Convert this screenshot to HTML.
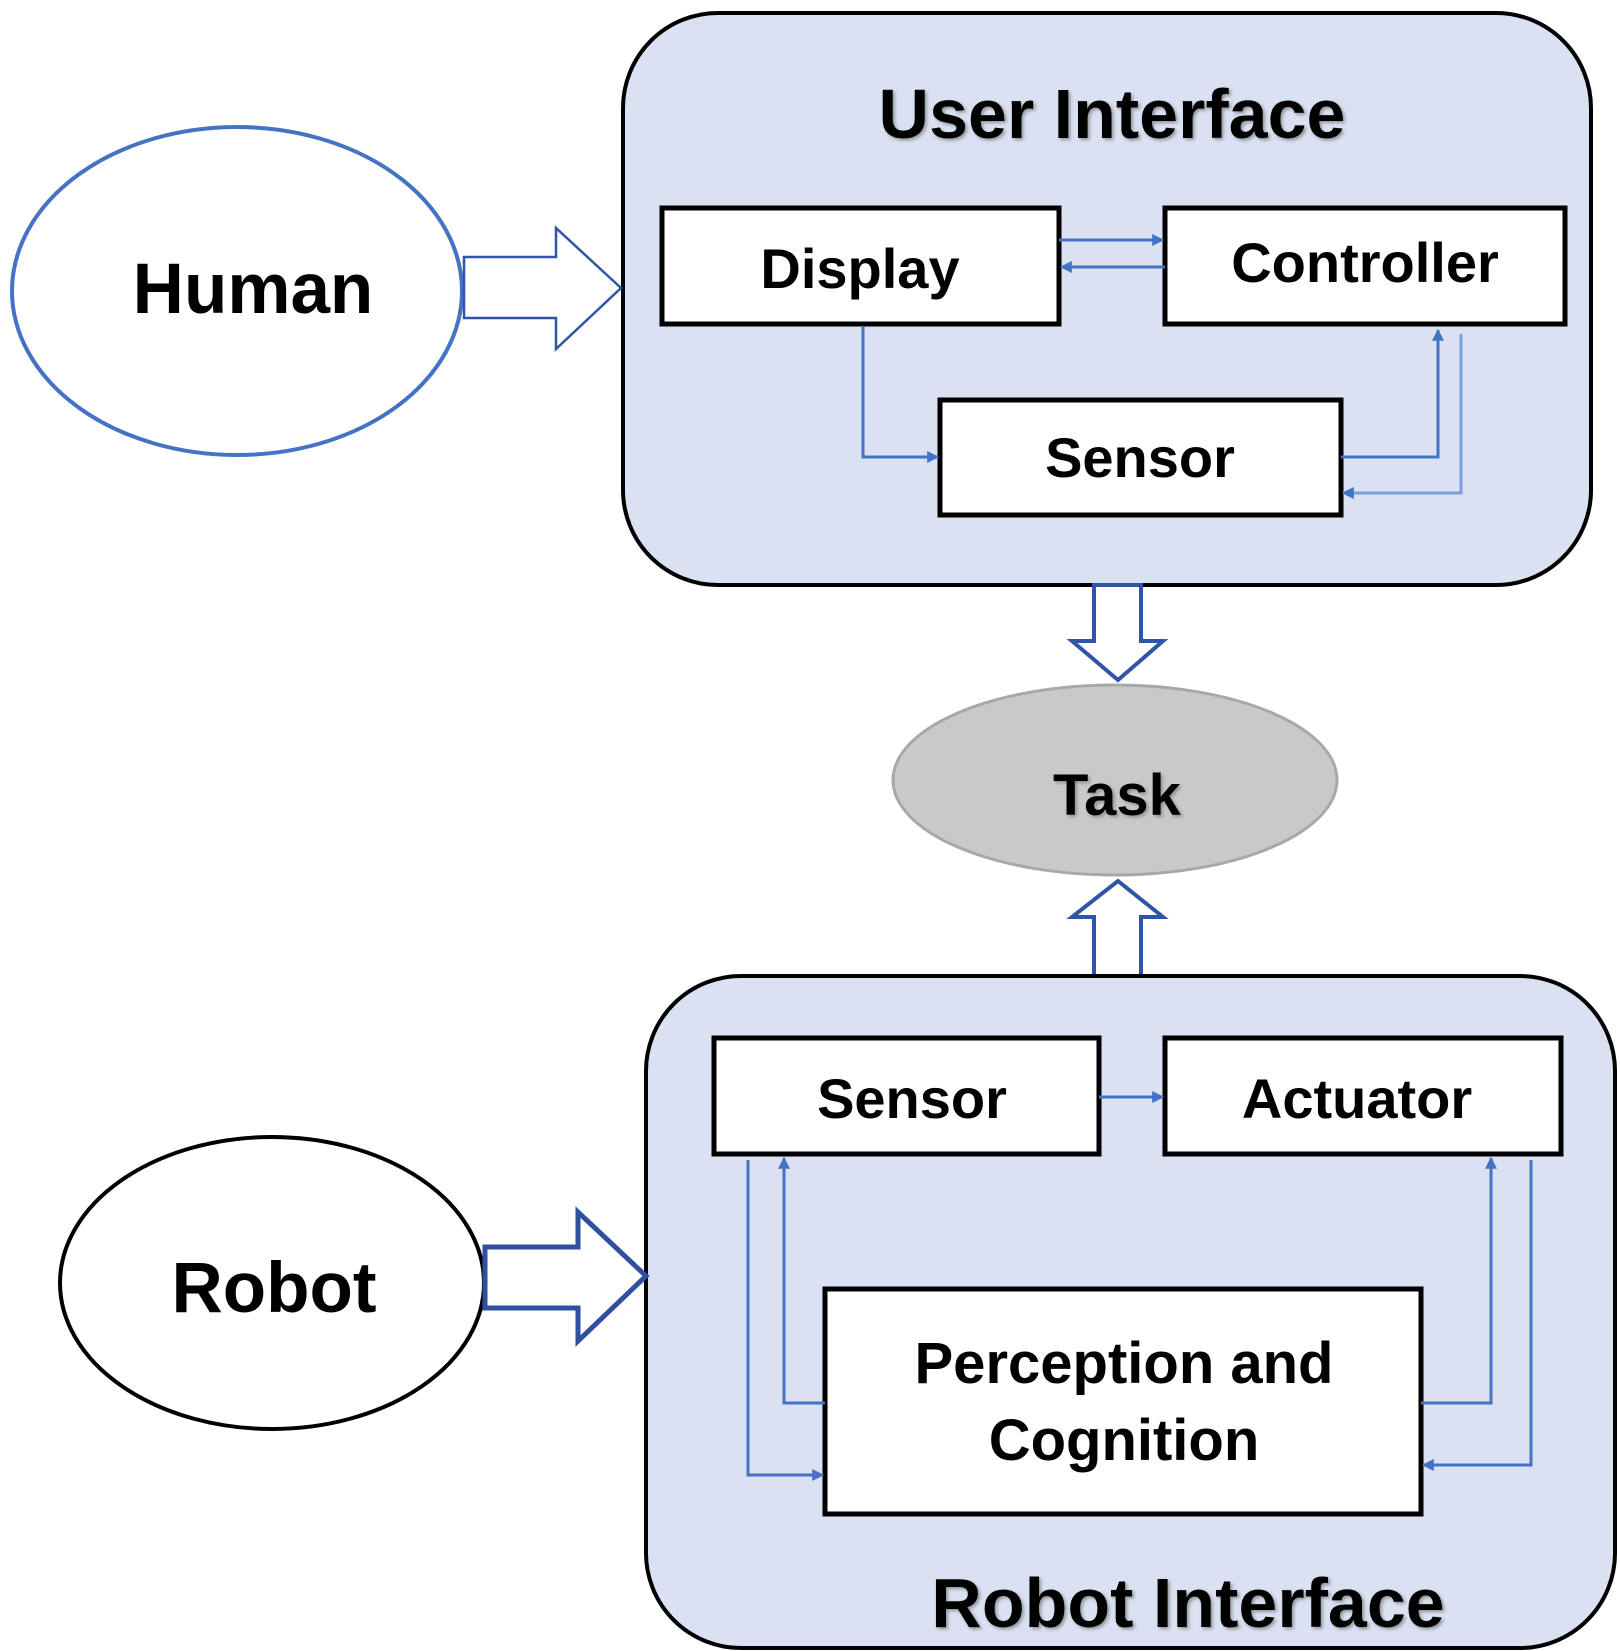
<!DOCTYPE html>
<html><head><meta charset="utf-8"><style>
html,body{margin:0;padding:0;background:#fff;}
svg{display:block;}
text{font-family:"Liberation Sans",sans-serif;font-weight:bold;fill:#000;text-anchor:middle;}
</style></head><body>
<svg width="1620" height="1651" viewBox="0 0 1620 1651" xmlns="http://www.w3.org/2000/svg">
<defs>
<marker id="ah" viewBox="0 0 10 10" refX="9" refY="5" markerWidth="4" markerHeight="4" orient="auto"><path d="M0,0 L10,5 L0,10 z" fill="#4472c4"/></marker>
<filter id="sh"><feDropShadow dx="2" dy="2" stdDeviation="1.5" flood-color="#777" flood-opacity="0.7"/></filter>
</defs>
<!-- User Interface -->
<rect x="623" y="13" width="968" height="572" rx="95" fill="#d9e1f2" stroke="#000" stroke-width="4"/>
<text x="1112" y="138" font-size="70" filter="url(#sh)">User Interface</text>
<rect x="662" y="208" width="397" height="116" fill="#fff" stroke="#000" stroke-width="5"/>
<text x="860" y="288" font-size="56">Display</text>
<rect x="1165" y="208" width="400" height="116" fill="#fff" stroke="#000" stroke-width="5"/>
<text x="1365" y="282" font-size="56">Controller</text>
<rect x="940" y="400" width="401" height="115" fill="#fff" stroke="#000" stroke-width="5"/>
<text x="1140" y="477" font-size="56">Sensor</text>
<g fill="none" stroke="#4472c4" stroke-width="3">
<line x1="1059" y1="240" x2="1163" y2="240" marker-end="url(#ah)"/>
<line x1="1165" y1="267" x2="1061" y2="267" marker-end="url(#ah)"/>
<polyline points="863,326 863,457 938,457" marker-end="url(#ah)"/>
<polyline points="1341,457 1438,457 1438,330" marker-end="url(#ah)"/>
<polyline points="1461,334 1461,493 1343,493" marker-end="url(#ah)" stroke="#7f9fdc"/>
</g>
<!-- Human -->
<ellipse cx="237" cy="291" rx="225" ry="164" fill="#fff" stroke="#4472c4" stroke-width="4"/>
<text x="253" y="313" font-size="71">Human</text>
<polygon points="464,257 556,257 556,228 621,288 556,349 556,318 464,318" fill="#fff" stroke="#2f55a4" stroke-width="2.5"/>
<!-- down arrow -->
<polygon points="1094,585 1141,585 1141,641 1163,641 1118,680 1072,641 1094,641" fill="#fff" stroke="#2f55a4" stroke-width="4"/>
<!-- Task -->
<ellipse cx="1115" cy="780" rx="222" ry="95" fill="#c9c9c9" stroke="#a8a8a8" stroke-width="3"/>
<text x="1117" y="815" font-size="58" filter="url(#sh)">Task</text>
<!-- up arrow -->
<polygon points="1094,976 1141,976 1141,917 1163,917 1118,881 1072,917 1094,917" fill="#fff" stroke="#2f55a4" stroke-width="4"/>
<!-- Robot Interface -->
<rect x="646" y="976" width="969" height="672" rx="95" fill="#d9e1f2" stroke="#000" stroke-width="4"/>
<text x="1188" y="1627" font-size="70" filter="url(#sh)">Robot Interface</text>
<rect x="714" y="1038" width="385" height="116" fill="#fff" stroke="#000" stroke-width="5"/>
<text x="912" y="1118" font-size="56">Sensor</text>
<rect x="1165" y="1038" width="396" height="116" fill="#fff" stroke="#000" stroke-width="5"/>
<text x="1357" y="1118" font-size="56">Actuator</text>
<rect x="825" y="1289" width="596" height="225" fill="#fff" stroke="#000" stroke-width="5"/>
<text x="1124" y="1383" font-size="58">Perception and</text>
<text x="1124" y="1460" font-size="58">Cognition</text>
<g fill="none" stroke="#4472c4" stroke-width="3">
<line x1="1099" y1="1097" x2="1163" y2="1097" marker-end="url(#ah)"/>
<polyline points="748,1160 748,1475 823,1475" marker-end="url(#ah)"/>
<polyline points="825,1403 784,1403 784,1158" marker-end="url(#ah)"/>
<polyline points="1421,1403 1491,1403 1491,1158" marker-end="url(#ah)"/>
<polyline points="1531,1160 1531,1465 1423,1465" marker-end="url(#ah)"/>
</g>
<!-- Robot -->
<ellipse cx="272" cy="1283" rx="212" ry="146" fill="#fff" stroke="#000" stroke-width="4"/>
<text x="274" y="1312" font-size="71">Robot</text>
<polygon points="485,1247 578,1247 578,1212 646,1276 578,1341 578,1308 485,1308" fill="#fff" stroke="#2f4f9f" stroke-width="5"/>
</svg>
</body></html>
